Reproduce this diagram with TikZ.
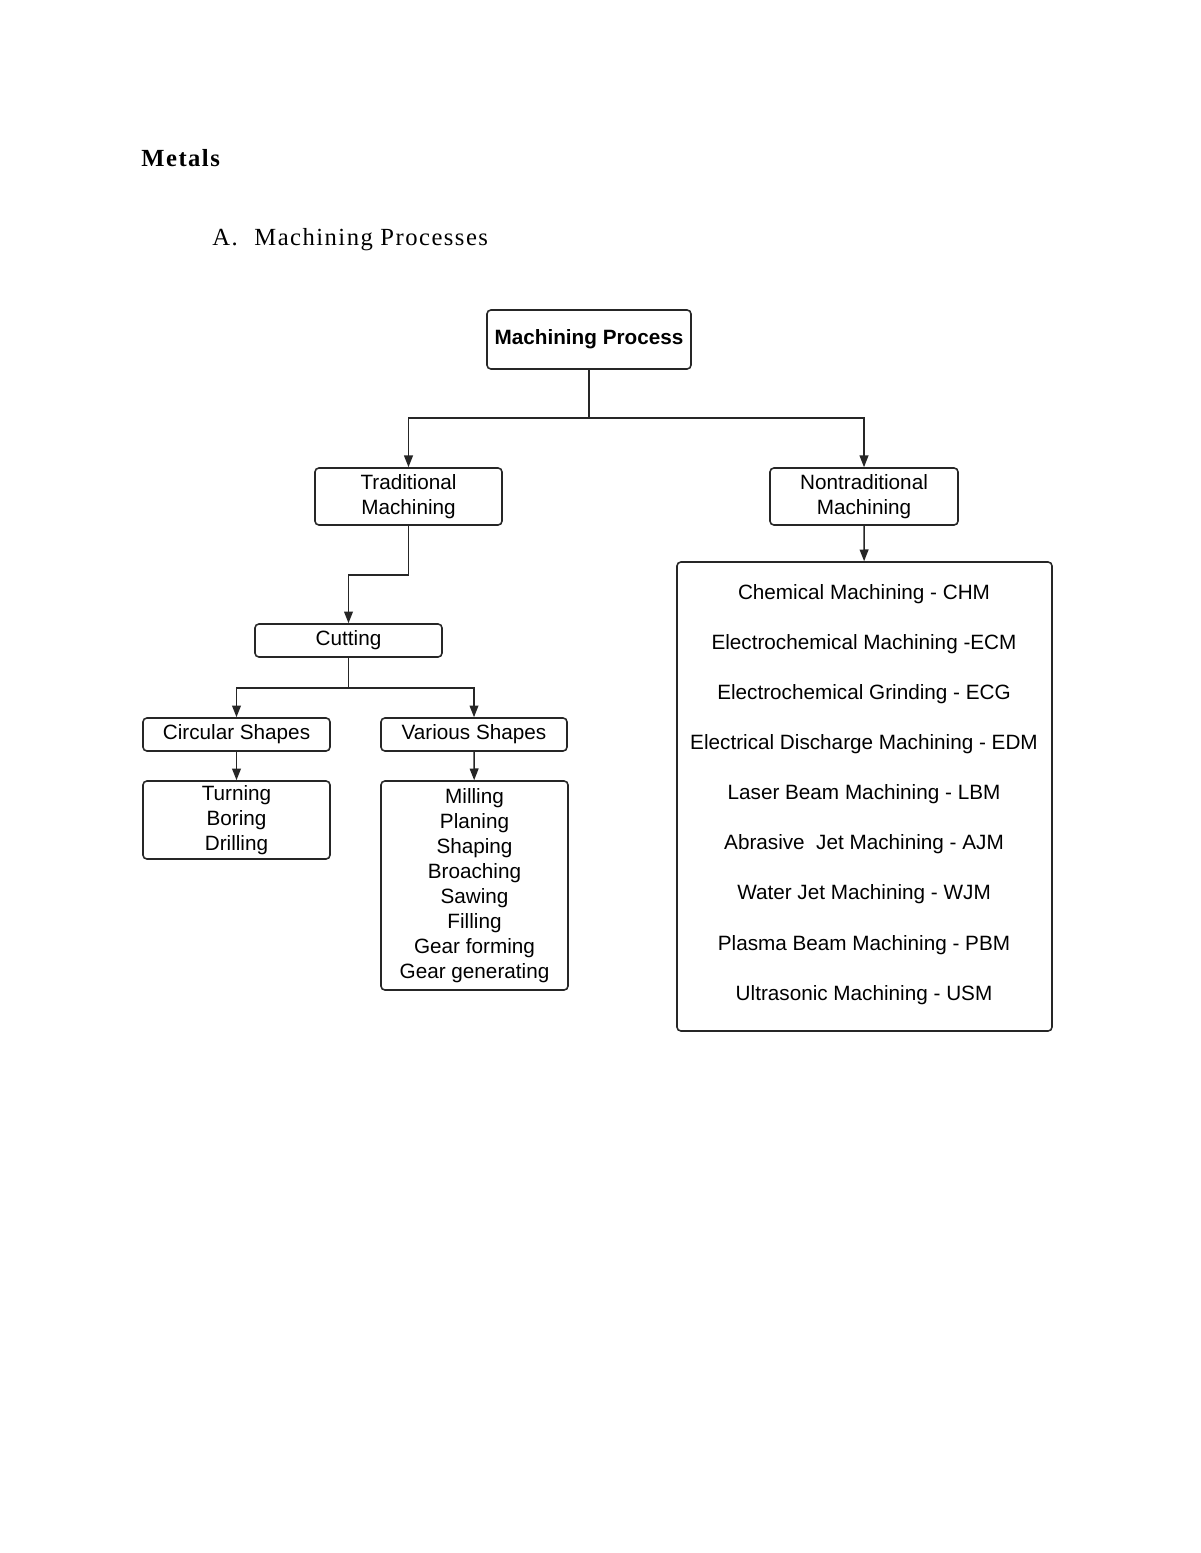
\documentclass[tikz,border=0pt]{standalone}
\usepackage{fontspec}
\setmainfont{Liberation Serif}
\newfontfamily\headfont[LetterSpace=6]{Liberation Serif}
\newfontfamily\boxfont{Liberation Sans}
\usepackage{tikz}
\usetikzlibrary{arrows.meta}

\begin{document}
\begin{tikzpicture}[x=0.51bp,y=-0.51bp,
   box/.style={draw=black!85,line width=0.8pt,rounded corners=2pt,
      inner sep=0pt,align=center,font=\boxfont\fontsize{10.6}{12.75}\selectfont},
   link/.style={draw=black!85,line width=0.75pt},
   arr/.style={link,-{Triangle[width=4.5pt,length=6pt]}},
   item/.style={font=\boxfont\fontsize{10.6}{12}\selectfont,inner sep=0pt},
   head/.style={anchor=base west,inner sep=0pt,font=\headfont\fontsize{12.6}{14}\selectfont}]
   \useasboundingbox (0,0) rectangle (1200,1553);

   % headings
   \node[head,font=\headfont\bfseries\fontsize{12.6}{14}\selectfont] (metals) at (141,167) {Metals};
   \node[head] (secA) at (212,246) {A.};
   \node[head] (secAtxt) at (254,246) {Machining Processes};

   % boxes
   \node[box,minimum width=204*0.51bp,minimum height=59*0.51bp,font=\boxfont\bfseries\fontsize{10.6}{12}\selectfont] (mp) at (589,339.5) {Machining Process};
   \node[box,minimum width=187*0.51bp,minimum height=57*0.51bp] (trad) at (408.5,496.5) {Traditional\\Machining};
   \node[box,minimum width=188*0.51bp,minimum height=57*0.51bp] (nontrad) at (864,496.5) {Nontraditional\\Machining};
   \node[box,minimum width=375*0.51bp,minimum height=469*0.51bp] (list) at (864.5,796.5) {};
   \node[box,minimum width=187*0.51bp,minimum height=33*0.51bp] (cut) at (348.5,640.5) {Cutting};
   \node[box,minimum width=187*0.51bp,minimum height=33*0.51bp] (circ) at (236.5,734.5) {Circular Shapes};
   \node[box,minimum width=186*0.51bp,minimum height=33*0.51bp] (var) at (474,734.5) {Various Shapes};
   \node[box,minimum width=187*0.51bp,minimum height=78*0.51bp] (turn) at (236.5,820) {Turning\\Boring\\Drilling};
   \node[box,minimum width=187*0.51bp,minimum height=209*0.51bp] (mill) at (474.5,885.5)
      {Milling\\Planing\\Shaping\\Broaching\\Sawing\\Filling\\Gear forming\\Gear generating};

   % nontraditional list
   \foreach \txt [count=\i from 0] in {Chemical Machining - CHM,
         Electrochemical Machining -ECM,
         Electrochemical Grinding - ECG,
         Electrical Discharge Machining - EDM,
         Laser Beam Machining - LBM,
         Abrasive~ Jet Machining - AJM,
         Water Jet Machining - WJM,
         Plasma Beam Machining - PBM,
         Ultrasonic Machining - USM}
      \node[item] (nt\i) at (864,594+50.1*\i) {\txt};

   % connectors
   \coordinate (mpj) at (589,418);
   \coordinate (tc) at (408.5,575);
   \coordinate (cj) at (348.5,688);
   \draw[link] (mp) -- (mpj);
   \draw[arr] (mpj) -| (trad);
   \draw[arr] (mpj) -| (nontrad);
   \draw[arr] (nontrad) -- (list);
   \draw[arr] (trad) -- (tc) -| (cut);
   \draw[link] (cut) -- (cj);
   \draw[arr] (cj) -| (circ);
   \draw[arr] (cj) -| (var);
   \draw[arr] (circ) -- (turn);
   \draw[arr] (var) -- (mill);
\end{tikzpicture}
\end{document}
